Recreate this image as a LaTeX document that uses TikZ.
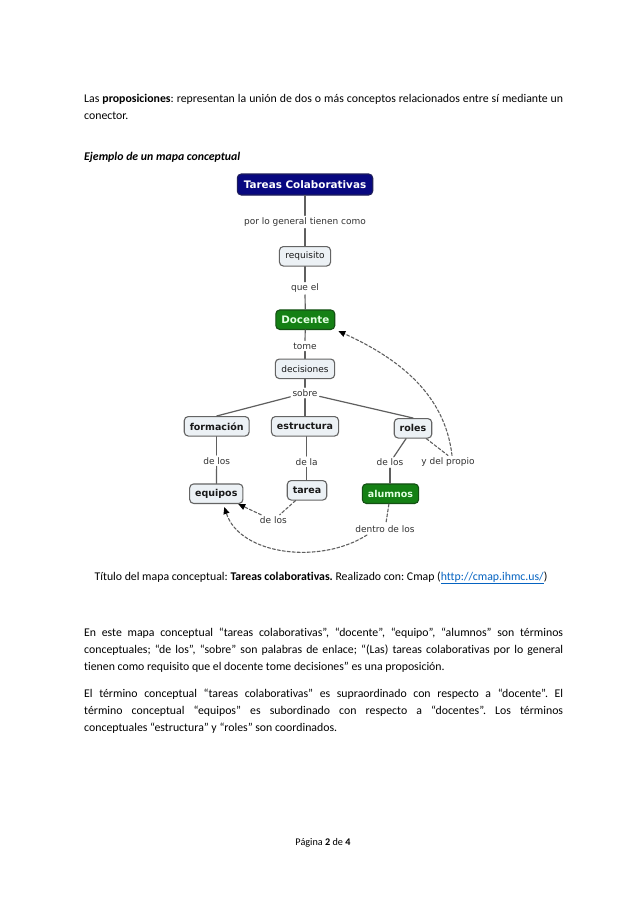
\documentclass[tikz,border=0pt]{standalone}
\usepackage{fontspec}
\setmainfont{Carlito}[Ligatures = NoCommon]
\newfontfamily\mapfont{DejaVu Sans}
\usetikzlibrary{arrows.meta}

% Colours of the concept map.
\definecolor{tcnavy}{RGB}{8,8,128}
\definecolor{tcnavyedge}{RGB}{30,30,90}
\definecolor{tcgreen}{RGB}{20,128,20}
\definecolor{tcgreenedge}{RGB}{20,80,20}
\definecolor{tclight}{RGB}{225,255,225}
\definecolor{tcfill}{RGB}{236,241,245}
\definecolor{tcedge}{RGB}{100,100,100}
\definecolor{tctext}{RGB}{25,25,25}
\definecolor{tclink}{RGB}{50,50,50}
\definecolor{tcline}{RGB}{95,95,95}
\definecolor{tcurl}{RGB}{5,99,193}

\frenchspacing

\begin{document}
\begin{tikzpicture}[%
        x = 1pt,
        y = -1pt,
        line cap = round,
        bodytext/.style = {inner sep = 0pt, font = \fontsize{11.8}{17}\selectfont},
        parbox/.style = {bodytext, anchor = base west, text width = 479pt, align = justify},
        concept/.style = {%
            draw = tcedge,
            fill = tcfill,
            rounded corners = 4pt,
            line width = 1.1pt,
            minimum height = 19.5pt,
            inner xsep = 5.5pt,
            inner ysep = 2pt,
            text = tctext,
            font = \mapfont\fontsize{9.5}{10}\selectfont\bfseries
        },
        plainconcept/.style = {concept, inner xsep = 6pt, font = \mapfont\fontsize{9}{10}\selectfont},
        mainconcept/.style = {%
            concept,
            fill = tcnavy,
            draw = tcnavyedge,
            text = white,
            minimum height = 21pt,
            inner xsep = 6.5pt,
            font = \mapfont\fontsize{10.4}{11}\selectfont\bfseries
        },
        greenconcept/.style = {concept, fill = tcgreen, draw = tcgreenedge, text = tclight},
        linkphrase/.style = {inner sep = 2pt, text = tclink, font = \mapfont\fontsize{9}{10}\selectfont},
        link/.style = {draw = tcline, line width = 1.2pt},
        dashlink/.style = {draw = tcline, line width = 1.1pt, dash pattern = on 3pt off 2pt},
        > = {Triangle[length = 7pt, width = 6pt, color = black]}
    ]

        % Page.
        \fill[white] (0,0) rectangle (638,902);
        \useasboundingbox (0,0) rectangle (638,902);

        % Text above the map.
        \node[parbox] (intro) at (84,102.5) {Las \textbf{proposiciones}: representan la unión de dos o más conceptos relacionados entre sí mediante un\linebreak conector.};
        \node[bodytext, anchor = base west] (heading) at (84,160) {\textbf{\textit{Ejemplo de un mapa conceptual}}};

        % Concepts.
        \node[mainconcept] (tareas) at (305,184.5) {Tareas Colaborativas};
        \node[plainconcept] (requisito) at (305,256.3) {requisito};
        \node[greenconcept, font = \mapfont\fontsize{10.3}{11}\selectfont\bfseries] (docente) at (305.3,319.7) {Docente};
        \node[plainconcept] (decisiones) at (305,368.8) {decisiones};
        \node[concept] (formacion) at (216.7,426.3) {formación};
        \node[concept] (estructura) at (305,426.3) {estructura};
        \node[concept] (roles) at (413,428.3) {roles};
        \node[concept] (equipos) at (216.3,493.7) {equipos};
        \node[concept] (tarea) at (307,490.3) {tarea};
        \node[greenconcept] (alumnos) at (390.5,493.7) {alumnos};

        % Linking phrases.
        \node[linkphrase] (tienen) at (305,222) {por lo general tienen como};
        \node[linkphrase] (queel) at (305,288.3) {que el};
        \node[linkphrase] (tome) at (305,346) {tome};
        \node[linkphrase] (sobre) at (305,393) {sobre};
        \node[linkphrase] (delosa) at (216.7,460.7) {de los};
        \node[linkphrase] (dela) at (306.7,461.7) {de la};
        \node[linkphrase] (delosb) at (390,462.5) {de los};
        \node[linkphrase] (propio) at (448,462) {y del propio};
        \node[linkphrase] (delosc) at (273.3,520.5) {de los};
        \node[linkphrase] (dentro) at (385,529.3) {dentro de los};

        % Solid connectors.
        \draw[link] (tareas) -- (tienen);
        \draw[link] (tienen) -- (requisito);
        \draw[link] (requisito) -- (queel);
        \draw[link] (queel) -- (docente);
        \draw[link] (docente) -- (tome);
        \draw[link] (tome) -- (decisiones);
        \draw[link] (decisiones) -- (sobre);
        \draw[link] (sobre) -- (formacion.north);
        \draw[link] (sobre) -- (estructura);
        \draw[link] (sobre) -- (roles.north);
        \draw[link] (formacion) -- (delosa);
        \draw[link] (delosa) -- (equipos);
        \draw[link] (estructura.south -| dela) -- (dela);
        \draw[link] (dela) -- (tarea.north -| dela);
        \draw[link] (roles) -- (delosb);
        \draw[link] (delosb) -- (alumnos.north -| delosb);

        % Dashed cross links.
        \draw[dashlink] (roles) -- (propio.north);
        \draw[dashlink, ->] ([shift = {(4,0)}]propio.north) .. controls (445,395) and (400,359) .. ([shift = {(3,1)}]docente.south east);
        \draw[dashlink] (tarea) -- (delosc);
        \draw[dashlink, ->] (delosc) -- (equipos);
        \draw[dashlink] (alumnos) -- (dentro);
        \draw[dashlink, ->] ([shift = {(-18,0)}]dentro.south) .. controls (320,565) and (240,555) .. ([shift = {(8,3)}]equipos.south);

        % Caption.
        \node[bodytext, anchor = base] (caption) at (321,580) {Título del mapa conceptual: \textbf{Tareas colaborativas.} Realizado con: Cmap (\textcolor{tcurl}{\underline{http://cmap.ihmc.us/}})};

        % Text below the map.
        \node[parbox] (paraone) at (84,636.5) {En este mapa conceptual “tareas colaborativas”, “docente”, “equipo”, “alumnos” son términos\linebreak conceptuales; “de los”, “sobre” son palabras de enlace; “(Las) tareas colaborativas por lo general\linebreak tienen como requisito que el docente tome decisiones” es una proposición.};
        \node[parbox] (paratwo) at (84,697.5) {El término conceptual “tareas colaborativas” es supraordinado con respecto a “docente”. El\linebreak término conceptual “equipos” es subordinado con respecto a “docentes”. Los términos\linebreak conceptuales “estructura” y “roles” son coordinados.};

        % Footer.
        \node[inner sep = 0pt, anchor = base, font = \fontsize{10.2}{12}\selectfont] (footer) at (323,845) {Página \textbf{2} de \textbf{4}};
    \end{tikzpicture}
\end{document}
